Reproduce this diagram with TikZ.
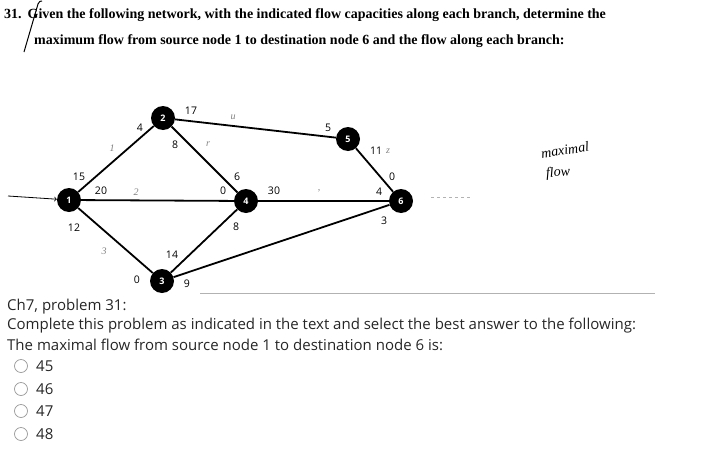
\documentclass[tikz,border=0pt]{standalone}
\usepackage{fontspec}
\setmainfont{Liberation Serif}
\newfontfamily\osans{Open Sans}
\begin{document}
\begin{tikzpicture}[x=1pt,y=-1pt,
 nd/.style={circle,fill=black,text=white,inner sep=0pt,minimum size=24pt,font=\osans\bfseries\fontsize{9}{9}\selectfont},
 ed/.style={line width=1.8pt},
 lb/.style={font=\osans\fontsize{10.5}{10}\selectfont,inner sep=0pt},
 hw/.style={font=\itshape\fontsize{10}{10}\selectfont,text=gray,inner sep=0pt},
 opt/.style={circle,draw=gray!80,line width=0.7pt,minimum size=13pt,inner sep=0pt},
 q/.style={font=\osans\fontsize{15}{17}\selectfont,anchor=west,inner sep=0pt,text=black!85}]
\useasboundingbox (0,0) rectangle (718,458);
\node[anchor=west,inner sep=0pt,font=\bfseries\fontsize{14}{16}\selectfont] (h1) at (4,15) {31.\hspace{6pt}Given the following network, with the indicated flow capacities along each branch, determine the};
\node[anchor=west,inner sep=0pt,font=\bfseries\fontsize{14}{16}\selectfont] (h2) at (34,41) {maximum flow from source node 1 to destination node 6 and the flow along each branch:};
\draw[line width=1pt] (24,52) -- (38,4) .. controls (40,1) .. (42,1);
\node[nd] (n1) at (69,200) {1};
\node[nd] (n2) at (163,118) {2};
\node[nd] (n3) at (162,281) {3};
\node[nd] (n4) at (246,201) {4};
\node[nd] (n5) at (348,139) {5};
\node[nd] (n6) at (401,201) {6};
\draw[ed] (n1)--(n2); \draw[ed] (n1)--(n4); \draw[ed] (n1)--(n3);
\draw[ed] (n2)--(n5); \draw[ed] (n2)--(n4); \draw[ed] (n3)--(n4);
\draw[ed] (n4)--(n6); \draw[ed] (n3)--(n6); \draw[ed] (n5)--(n6);
\coordinate (in) at (8,196);
\draw[line width=0.8pt,->] (in) -- (n1);
\coordinate (out) at (470,197);
\draw[gray!60,dashed] (n6) ++(30,-4) -- (out);
\node[lb] (a1) at (140,128) {4};
\node[lb] (a2) at (79,177) {15};
\node[lb] (a3) at (101,191) {20};
\node[lb] (a4) at (74,228) {12};
\node[lb] (a5) at (191,111) {17};
\node[lb] (a6) at (175,145) {8};
\node[lb] (a7) at (328,128) {5};
\node[lb] (a8) at (237,177) {6};
\node[lb] (a9) at (223,191) {0};
\node[lb] (a10) at (274,191) {30};
\node[lb] (a11) at (236,227) {8};
\node[lb] (a12) at (172,255) {14};
\node[lb] (a13) at (137,280) {0};
\node[lb] (a14) at (187,284) {9};
\node[lb] (a15) at (376,151) {11};
\node[lb] (a16) at (392,177) {0};
\node[lb] (a17) at (379,192) {4};
\node[lb] (a18) at (384,221) {3};
\node[hw] (w1) at (112,148) {1};
\node[hw] (w2) at (136,192) {2};
\node[hw] (w3) at (104,251) {3};
\node[hw] (w4) at (233,117) {\textit{u}};
\node[hw] (w5) at (208,144) {\textit{r}};
\node[hw] (w6) at (319,191) {,};
\node[hw] (w7) at (388,151) {z};
\node[font=\itshape\fontsize{14}{14}\selectfont,rotate=8] (m1) at (565,150) {maximal};
\node[font=\itshape\fontsize{14}{14}\selectfont,rotate=5] (m2) at (558,173) {flow};
\draw[gray!60,line width=0.6pt] (200,293) -- (655,293);
\node[q] (t1) at (7,307) {Ch7, problem 31:};
\node[q] (t2) at (7,326) {Complete this problem as indicated in the text and select the best answer to the following:};
\node[q] (t3) at (7,345) {The maximal flow from source node 1 to destination node 6 is:};
\foreach \v/\y in {45/366,46/389,47/411,48/434}{
 \node[opt] (o\v) at (21,\y) {};
 \node[q] (l\v) at (36,\y) {\v};
}
\end{tikzpicture}
\end{document}
